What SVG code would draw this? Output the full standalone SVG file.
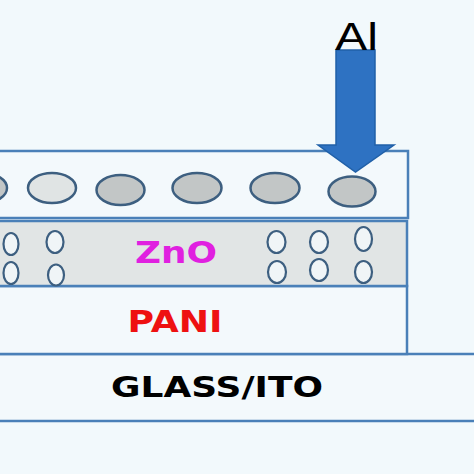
<svg xmlns="http://www.w3.org/2000/svg" width="474" height="474" viewBox="0 0 474 474">
<style>
.layer{stroke:#4a80b8;stroke-width:2.5}
.grain{fill:#c2c6c6;stroke:#3d5f80;stroke-width:2.5}
.pore{fill:#f0f5f7;stroke:#3d5f80;stroke-width:2.2}
.lbl{font-family:"DejaVu Sans","Liberation Sans",sans-serif;font-weight:bold;text-anchor:middle}
</style>
<rect x="0" y="0" width="474" height="474" fill="#f2f9fc"/>
<g id="glass-ito">
<rect class="layer" x="-5" y="354" width="490" height="67" fill="#f3f9fc"/>
<text class="lbl" x="217" y="397" font-size="29" fill="#000" textLength="212" lengthAdjust="spacingAndGlyphs">GLASS/ITO</text>
</g>
<g id="pani">
<rect class="layer" x="-5" y="286" width="412" height="68" fill="#f3f9fc"/>
<text class="lbl" x="175" y="332" font-size="30" fill="#ee1111" textLength="95" lengthAdjust="spacingAndGlyphs">PANI</text>
</g>
<g id="zno">
<rect class="layer" x="-5" y="221" width="412" height="65" fill="#e1e5e5"/>
<ellipse class="pore" cx="11" cy="244" rx="7.5" ry="11"/>
<ellipse class="pore" cx="11" cy="273" rx="7.5" ry="11"/>
<ellipse class="pore" cx="55" cy="242" rx="8.5" ry="11"/>
<ellipse class="pore" cx="56" cy="275" rx="8" ry="10.5"/>
<ellipse class="pore" cx="276.5" cy="242" rx="9" ry="11"/>
<ellipse class="pore" cx="277" cy="272" rx="9" ry="11"/>
<ellipse class="pore" cx="319" cy="242" rx="9" ry="11"/>
<ellipse class="pore" cx="319" cy="270" rx="9" ry="11"/>
<ellipse class="pore" cx="363.5" cy="239" rx="8.5" ry="12"/>
<ellipse class="pore" cx="363.5" cy="272" rx="8.5" ry="11"/>
<text class="lbl" x="176" y="263" font-size="30" fill="#e020e0" textLength="82" lengthAdjust="spacingAndGlyphs">ZnO</text>
</g>
<g id="al-layer">
<rect class="layer" x="-5" y="151" width="413" height="67" fill="#f3f9fc"/>
<ellipse class="grain" cx="-17" cy="188" rx="24" ry="15"/>
<ellipse class="grain" cx="52" cy="188" rx="24" ry="15" style="fill:#e0e4e4"/>
<ellipse class="grain" cx="120.5" cy="190" rx="24" ry="15"/>
<ellipse class="grain" cx="197" cy="188" rx="24.5" ry="15"/>
<ellipse class="grain" cx="275" cy="188" rx="24.5" ry="15"/>
<ellipse class="grain" cx="352" cy="191.5" rx="23.5" ry="15"/>
</g>
<g id="connectors">
<path d="M336,50 L375,50 L375,145 L394,145 L355.5,172 L318,145 L336,145 Z" fill="#2e72c2" stroke="#2060a8" stroke-width="1.5"/>
</g>
<g id="al-label">
<text x="356.5" y="50" font-family="Liberation Sans, Arial, sans-serif" font-size="39" fill="#000" text-anchor="middle" textLength="43" lengthAdjust="spacingAndGlyphs">Al</text>
</g>
</svg>
